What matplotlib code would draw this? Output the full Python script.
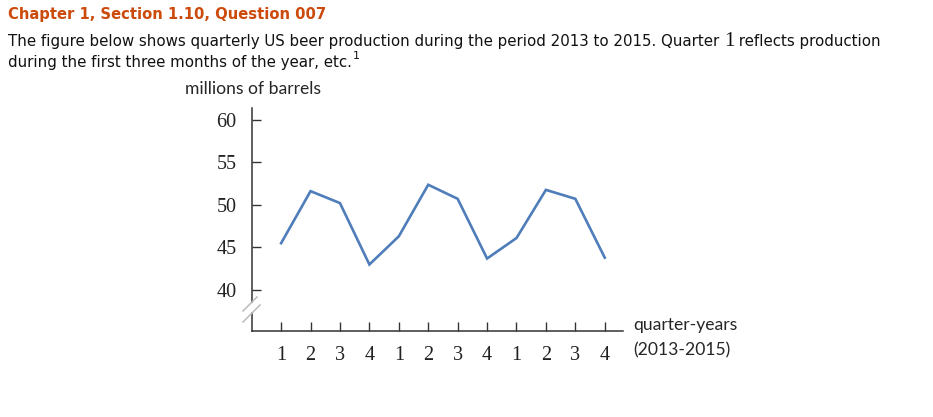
import matplotlib
matplotlib.use("Agg")
import matplotlib.pyplot as plt

quarters = [1, 2, 3, 4, 1, 2, 3, 4, 1, 2, 3, 4]
production = [45.5, 51.6, 50.2, 43.0, 46.3, 52.35, 50.7, 43.7, 46.1, 51.75, 50.7, 43.8]
yticks = [40, 45, 50, 55, 60]

W, H = 933, 417
fig = plt.figure(figsize=(W / 100, H / 100), dpi=100)

def fx(px):
    return px / W

def fy(py):
    return 1 - py / H

ax = fig.add_axes([fx(251.7), fy(331), fx(623) - fx(251.7), fy(108) - fy(331)])
xs = list(range(1, len(production) + 1))
ax.plot(xs, production, color="#4f7dba", lw=1.9, solid_joinstyle="miter")
ax.set_xlim(0, 12.62)
ax.set_ylim(35.2, 61.35)

for s in ["top", "right", "left"]:
    ax.spines[s].set_visible(False)
ax.spines["bottom"].set_color("#333333")
ax.spines["bottom"].set_linewidth(1.1)

serif = "Liberation Serif"
ax.set_xticks(xs)
ax.set_xticklabels([str(q) for q in quarters], family=serif, fontsize=14.5, color="#222222")
ax.set_yticks(yticks)
ax.set_yticklabels([str(v) for v in yticks], family=serif, fontsize=14.5, color="#222222")
ax.tick_params(axis="x", direction="in", length=6.5, width=1.0, color="#333333", pad=11)
ax.tick_params(axis="y", direction="in", length=6.5, width=1.0, color="#333333", pad=11)

# broken y-axis spine
def ay(py):
    return (331 - py) / (331 - 108)

ax.plot([0, 0], [ay(108), ay(302)], transform=ax.transAxes, color="#333333", lw=1.1, clip_on=False)
ax.plot([0, 0], [ay(313), 0], transform=ax.transAxes, color="#333333", lw=1.1, clip_on=False)

def axx(px):
    return (px - 251.7) / (623 - 251.7)

ax.plot([axx(243), axx(257)], [ay(311), ay(297)], transform=ax.transAxes, color="#bbbbbb", lw=1.1, clip_on=False)
ax.plot([axx(243), axx(260)], [ay(322), ay(305)], transform=ax.transAxes, color="#bbbbbb", lw=1.1, clip_on=False)

label_font = "Lato"
fig.text(fx(185), fy(89), "millions of barrels", family=label_font, fontsize=12.6,
         color="#262626", va="center", ha="left")
fig.text(fx(633), fy(325), "quarter-years", family=label_font, fontsize=12.6,
         color="#262626", va="center", ha="left")
fig.text(fx(633), fy(350), "(2013-2015)", family=label_font, fontsize=12.6,
         color="#262626", va="center", ha="left")

# header text
fig.text(fx(8), fy(14), "Chapter 1, Section 1.10, Question 007", family="DejaVu Sans",
         weight="bold", fontsize=10.6, color="#cc4a0c", va="center", ha="left")

renderer = fig.canvas.get_renderer()
body = dict(family="DejaVu Sans", fontsize=10.85, color="#111111", va="baseline", ha="left")
t1 = fig.text(fx(8), fy(46), "The figure below shows quarterly US beer production during the period 2013 to 2015. Quarter ", **body)
bb = t1.get_window_extent(renderer)
t2 = fig.text(bb.x1 / W, fy(46), "1", family=serif, fontsize=15, color="#111111", va="baseline", ha="left")
bb2 = t2.get_window_extent(renderer)
fig.text(bb2.x1 / W, fy(46), " reflects production", **body)

t3 = fig.text(fx(8), fy(67), "during the first three months of the year, etc.", **body)
bb3 = t3.get_window_extent(renderer)
fig.text(bb3.x1 / W + 0.001, fy(59), "1", family="DejaVu Sans", fontsize=8, color="#111111",
         va="baseline", ha="left")

fig.savefig("out.png", dpi=100, facecolor="white")
